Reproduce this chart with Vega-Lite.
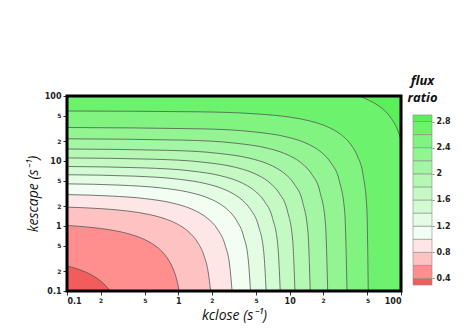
{
  "$schema": "https://vega.github.io/schema/vega-lite/v6.json",
  "padding": {"left": 26, "top": 75, "right": 5, "bottom": 5},
  "config": {"view": {"stroke": null}, "font": "DejaVu Sans"},
  "bounds": "flush",
  "spacing": 12,
  "datasets": {
    "contours": [
      {"level": 2.8, "kc": 0.1, "ke": 100}, {"level": 2.8, "kc": 41, "ke": 100}, {"level": 2.8, "kc": 48.5, "ke": 90}, {"level": 2.8, "kc": 56, "ke": 80}, {"level": 2.8, "kc": 63.4, "ke": 70}, {"level": 2.8, "kc": 70.9, "ke": 60}, {"level": 2.8, "kc": 78.4, "ke": 50}, {"level": 2.8, "kc": 85.8, "ke": 40}, {"level": 2.8, "kc": 93.3, "ke": 30}, {"level": 2.8, "kc": 100, "ke": 21},
      {"level": 2.6, "kc": 0.1, "ke": 58.8}, {"level": 2.6, "kc": 1.53, "ke": 57.1}, {"level": 2.6, "kc": 5.09, "ke": 53.0}, {"level": 2.6, "kc": 10.2, "ke": 47.1}, {"level": 2.6, "kc": 15.3, "ke": 41.2}, {"level": 2.6, "kc": 20.4, "ke": 35.3}, {"level": 2.6, "kc": 25.45, "ke": 29.45}, {"level": 2.6, "kc": 30.5, "ke": 23.6}, {"level": 2.6, "kc": 35.6, "ke": 17.7}, {"level": 2.6, "kc": 40.7, "ke": 11.8}, {"level": 2.6, "kc": 45.8, "ke": 5.89}, {"level": 2.6, "kc": 49.4, "ke": 1.77}, {"level": 2.6, "kc": 50.8, "ke": 0.1},
      {"level": 2.4, "kc": 0.1, "ke": 32.75}, {"level": 2.4, "kc": 1.6, "ke": 31.25}, {"level": 2.4, "kc": 4.9, "ke": 27.95}, {"level": 2.4, "kc": 9.4, "ke": 23.45}, {"level": 2.4, "kc": 13.4, "ke": 19.45}, {"level": 2.4, "kc": 16.4, "ke": 16.45}, {"level": 2.4, "kc": 19.45, "ke": 13.4}, {"level": 2.4, "kc": 23.45, "ke": 9.4}, {"level": 2.4, "kc": 27.95, "ke": 4.9}, {"level": 2.4, "kc": 31.25, "ke": 1.6}, {"level": 2.4, "kc": 32.75, "ke": 0.1},
      {"level": 2.2, "kc": 0.1, "ke": 21.95}, {"level": 2.2, "kc": 1.1, "ke": 20.95}, {"level": 2.2, "kc": 3.3, "ke": 18.75}, {"level": 2.2, "kc": 6.3, "ke": 15.75}, {"level": 2.2, "kc": 9.0, "ke": 13.05}, {"level": 2.2, "kc": 11.025, "ke": 11.025}, {"level": 2.2, "kc": 13.05, "ke": 9.0}, {"level": 2.2, "kc": 15.75, "ke": 6.3}, {"level": 2.2, "kc": 18.75, "ke": 3.3}, {"level": 2.2, "kc": 20.95, "ke": 1.1}, {"level": 2.2, "kc": 21.95, "ke": 0.1},
      {"level": 2, "kc": 0.1, "ke": 15.3}, {"level": 2, "kc": 0.8, "ke": 14.6}, {"level": 2, "kc": 2.3, "ke": 13.1}, {"level": 2, "kc": 4.4, "ke": 11.0}, {"level": 2, "kc": 6.3, "ke": 9.1}, {"level": 2, "kc": 7.7, "ke": 7.7}, {"level": 2, "kc": 9.1, "ke": 6.3}, {"level": 2, "kc": 11.0, "ke": 4.4}, {"level": 2, "kc": 13.1, "ke": 2.3}, {"level": 2, "kc": 14.6, "ke": 0.8}, {"level": 2, "kc": 15.3, "ke": 0.1},
      {"level": 1.8, "kc": 0.1, "ke": 11.15}, {"level": 1.8, "kc": 0.6, "ke": 10.65}, {"level": 1.8, "kc": 1.7, "ke": 9.55}, {"level": 1.8, "kc": 3.2, "ke": 8.05}, {"level": 1.8, "kc": 4.6, "ke": 6.65}, {"level": 1.8, "kc": 5.625, "ke": 5.625}, {"level": 1.8, "kc": 6.65, "ke": 4.6}, {"level": 1.8, "kc": 8.05, "ke": 3.2}, {"level": 1.8, "kc": 9.55, "ke": 1.7}, {"level": 1.8, "kc": 10.65, "ke": 0.6}, {"level": 1.8, "kc": 11.15, "ke": 0.1},
      {"level": 1.6, "kc": 0.1, "ke": 8.23}, {"level": 1.6, "kc": 0.5, "ke": 7.83}, {"level": 1.6, "kc": 1.3, "ke": 7.03}, {"level": 1.6, "kc": 2.4, "ke": 5.93}, {"level": 1.6, "kc": 3.4, "ke": 4.93}, {"level": 1.6, "kc": 4.165, "ke": 4.165}, {"level": 1.6, "kc": 4.93, "ke": 3.4}, {"level": 1.6, "kc": 5.93, "ke": 2.4}, {"level": 1.6, "kc": 7.03, "ke": 1.3}, {"level": 1.6, "kc": 7.83, "ke": 0.5}, {"level": 1.6, "kc": 8.23, "ke": 0.1},
      {"level": 1.4, "kc": 0.1, "ke": 6.15}, {"level": 1.4, "kc": 0.4, "ke": 5.85}, {"level": 1.4, "kc": 1.0, "ke": 5.25}, {"level": 1.4, "kc": 1.8, "ke": 4.45}, {"level": 1.4, "kc": 2.5, "ke": 3.75}, {"level": 1.4, "kc": 3.125, "ke": 3.125}, {"level": 1.4, "kc": 3.75, "ke": 2.5}, {"level": 1.4, "kc": 4.45, "ke": 1.8}, {"level": 1.4, "kc": 5.25, "ke": 1.0}, {"level": 1.4, "kc": 5.85, "ke": 0.4}, {"level": 1.4, "kc": 6.15, "ke": 0.1},
      {"level": 1.2, "kc": 0.1, "ke": 4.45}, {"level": 1.2, "kc": 0.3, "ke": 4.25}, {"level": 1.2, "kc": 0.7, "ke": 3.85}, {"level": 1.2, "kc": 1.2, "ke": 3.35}, {"level": 1.2, "kc": 1.8, "ke": 2.75}, {"level": 1.2, "kc": 2.275, "ke": 2.275}, {"level": 1.2, "kc": 2.75, "ke": 1.8}, {"level": 1.2, "kc": 3.35, "ke": 1.2}, {"level": 1.2, "kc": 3.85, "ke": 0.7}, {"level": 1.2, "kc": 4.25, "ke": 0.3}, {"level": 1.2, "kc": 4.45, "ke": 0.1},
      {"level": 1, "kc": 0.1, "ke": 3.04}, {"level": 1, "kc": 0.25, "ke": 2.89}, {"level": 1, "kc": 0.5, "ke": 2.64}, {"level": 1, "kc": 0.9, "ke": 2.24}, {"level": 1, "kc": 1.3, "ke": 1.84}, {"level": 1, "kc": 1.57, "ke": 1.57}, {"level": 1, "kc": 1.84, "ke": 1.3}, {"level": 1, "kc": 2.24, "ke": 0.9}, {"level": 1, "kc": 2.64, "ke": 0.5}, {"level": 1, "kc": 2.89, "ke": 0.25}, {"level": 1, "kc": 3.04, "ke": 0.1},
      {"level": 0.8, "kc": 0.1, "ke": 1.95}, {"level": 0.8, "kc": 0.2, "ke": 1.85}, {"level": 0.8, "kc": 0.35, "ke": 1.7}, {"level": 0.8, "kc": 0.55, "ke": 1.5}, {"level": 0.8, "kc": 0.8, "ke": 1.25}, {"level": 0.8, "kc": 1.025, "ke": 1.025}, {"level": 0.8, "kc": 1.25, "ke": 0.8}, {"level": 0.8, "kc": 1.5, "ke": 0.55}, {"level": 0.8, "kc": 1.7, "ke": 0.35}, {"level": 0.8, "kc": 1.85, "ke": 0.2}, {"level": 0.8, "kc": 1.95, "ke": 0.1},
      {"level": 0.6, "kc": 0.1, "ke": 1.017}, {"level": 0.6, "kc": 0.15, "ke": 0.967}, {"level": 0.6, "kc": 0.2, "ke": 0.917}, {"level": 0.6, "kc": 0.3, "ke": 0.817}, {"level": 0.6, "kc": 0.4, "ke": 0.717}, {"level": 0.6, "kc": 0.5, "ke": 0.617}, {"level": 0.6, "kc": 0.5585, "ke": 0.5585}, {"level": 0.6, "kc": 0.617, "ke": 0.5}, {"level": 0.6, "kc": 0.717, "ke": 0.4}, {"level": 0.6, "kc": 0.817, "ke": 0.3}, {"level": 0.6, "kc": 0.917, "ke": 0.2}, {"level": 0.6, "kc": 0.967, "ke": 0.15}, {"level": 0.6, "kc": 1.017, "ke": 0.1},
      {"level": 0.4, "kc": 0.1, "ke": 0.243}, {"level": 0.4, "kc": 0.12, "ke": 0.223}, {"level": 0.4, "kc": 0.14, "ke": 0.203}, {"level": 0.4, "kc": 0.1715, "ke": 0.1715}, {"level": 0.4, "kc": 0.203, "ke": 0.14}, {"level": 0.4, "kc": 0.223, "ke": 0.12}, {"level": 0.4, "kc": 0.243, "ke": 0.1}
    ],
    "bands": [
      {"level": 0.4, "lo": 0.3, "hi": 0.4}, {"level": 0.6, "lo": 0.4, "hi": 0.6}, {"level": 0.8, "lo": 0.6, "hi": 0.8}, {"level": 1, "lo": 0.8, "hi": 1.0},
      {"level": 1.2, "lo": 1.0, "hi": 1.2}, {"level": 1.4, "lo": 1.2, "hi": 1.4}, {"level": 1.6, "lo": 1.4, "hi": 1.6}, {"level": 1.8, "lo": 1.6, "hi": 1.8},
      {"level": 2, "lo": 1.8, "hi": 2.0}, {"level": 2.2, "lo": 2.0, "hi": 2.2}, {"level": 2.4, "lo": 2.2, "hi": 2.4}, {"level": 2.6, "lo": 2.4, "hi": 2.6},
      {"level": 2.8, "lo": 2.6, "hi": 2.8}, {"level": 3, "lo": 2.8, "hi": 2.9}
    ]
  },
  "hconcat": [
    {
      "width": 334,
      "height": 195,
      "layer": [
        {
          "data": {"values": [{}]},
          "mark": {"type": "rect"},
          "encoding": {
            "x": {"datum": 0.1, "type": "quantitative"},
            "x2": {"datum": 100},
            "y": {"datum": 0.1, "type": "quantitative"},
            "y2": {"datum": 100},
            "color": {"datum": 3, "type": "ordinal"}
          }
        },
        {
          "data": {"name": "contours"},
          "mark": {"type": "area", "interpolate": "monotone"},
          "encoding": {
            "x": {
              "field": "kc", "type": "quantitative",
              "scale": {"type": "log", "domain": [0.1, 100], "nice": false},
              "axis": {
                "title": "kclose (s⁻¹)", "titleFont": "Open Sans", "titleFontSize": 14, "titleFontStyle": "italic", "titleFontWeight": "normal", "titleColor": "#111", "titlePadding": 3,
                "values": [0.1, 0.2, 0.5, 1, 2, 5, 10, 20, 50, 100],
                "format": "~g",
                "labelExpr": "indexof([0.2,2,20], datum.value) >= 0 ? '2' : (indexof([0.5,5,50], datum.value) >= 0 ? '5' : datum.label)",
                "labelFontSize": {"condition": {"test": "indexof([0.1,1,10,100], datum.value) >= 0", "value": 8}, "value": 6},
                "labelFontWeight": "bold", "labelColor": "#222", "labelPadding": 2,
                "tickSize": 4, "tickColor": "#333", "domain": false, "grid": false
              }
            },
            "y": {
              "field": "ke", "type": "quantitative", "stack": null,
              "scale": {"type": "log", "domain": [0.1, 100], "nice": false},
              "axis": {
                "title": "kescape (s⁻¹)", "titleFont": "Open Sans", "titleFontSize": 14, "titleFontStyle": "italic", "titleFontWeight": "normal", "titleColor": "#111", "titlePadding": 4,
                "values": [0.1, 0.2, 0.5, 1, 2, 5, 10, 20, 50, 100],
                "format": "~g",
                "labelExpr": "indexof([0.2,2,20], datum.value) >= 0 ? '2' : (indexof([0.5,5,50], datum.value) >= 0 ? '5' : datum.label)",
                "labelFontSize": {"condition": {"test": "indexof([0.1,1,10,100], datum.value) >= 0", "value": 8}, "value": 6},
                "labelFontWeight": "bold", "labelColor": "#222", "labelPadding": 2,
                "tickSize": 4, "tickColor": "#333", "domain": false, "grid": false
              }
            },
            "y2": {"datum": 0.1},
            "color": {
              "field": "level", "type": "ordinal",
              "scale": {
                "domain": [0.4, 0.6, 0.8, 1, 1.2, 1.4, 1.6, 1.8, 2, 2.2, 2.4, 2.6, 2.8, 3],
                "range": ["#f25c5c", "#ff8f8f", "#ffc2c2", "#ffe6e6", "#f1fef1", "#e3fce3", "#d3fbd3", "#c4f9c4", "#b4f8b4", "#a3f6a3", "#92f592", "#80f380", "#6df26d", "#5bef5b"]
              },
              "legend": null
            }
          }
        },
        {
          "data": {"name": "contours"},
          "mark": {"type": "line", "interpolate": "monotone", "color": "#555", "strokeWidth": 0.8},
          "encoding": {
            "x": {"field": "kc", "type": "quantitative"},
            "y": {"field": "ke", "type": "quantitative"},
            "detail": {"field": "level", "type": "nominal"}
          }
        },
        {
          "data": {"values": [{}]},
          "mark": {"type": "rect", "fillOpacity": 0, "stroke": "black", "strokeWidth": 3},
          "encoding": {
            "x": {"datum": 0.1, "type": "quantitative"},
            "x2": {"datum": 100},
            "y": {"datum": 0.1, "type": "quantitative"},
            "y2": {"datum": 100}
          }
        }
      ]
    },
    {
      "width": 19,
      "height": 189,
      "data": {"name": "bands"},
      "title": {"text": ["flux", "ratio"], "font": "Open Sans", "fontSize": 13, "fontStyle": "italic", "fontWeight": "bold", "color": "#111", "anchor": "middle", "frame": "group", "baseline": "bottom", "offset": -22, "lineHeight": 17},
      "mark": {"type": "rect", "stroke": "#8a8a8a", "strokeWidth": 0.6},
      "encoding": {
        "x": {"datum": 0, "type": "quantitative", "scale": {"domain": [0, 1]}, "axis": null},
        "x2": {"datum": 1},
        "y": {
          "field": "lo", "type": "quantitative",
          "scale": {"domain": [0.3, 3.19], "nice": false, "zero": false},
          "axis": {"orient": "right", "title": null, "values": [0.4, 0.8, 1.2, 1.6, 2, 2.4, 2.8], "format": "~g", "labelFontSize": 8, "labelFontWeight": "bold", "labelColor": "#222", "labelPadding": 2, "tickSize": 2, "tickColor": "#888", "domain": false, "grid": false}
        },
        "y2": {"field": "hi"},
        "color": {
          "field": "level", "type": "ordinal",
          "scale": {
            "domain": [0.4, 0.6, 0.8, 1, 1.2, 1.4, 1.6, 1.8, 2, 2.2, 2.4, 2.6, 2.8, 3],
            "range": ["#f25c5c", "#ff8f8f", "#ffc2c2", "#ffe6e6", "#f1fef1", "#e3fce3", "#d3fbd3", "#c4f9c4", "#b4f8b4", "#a3f6a3", "#92f592", "#80f380", "#6df26d", "#5bef5b"]
          },
          "legend": null
        }
      }
    }
  ]
}
